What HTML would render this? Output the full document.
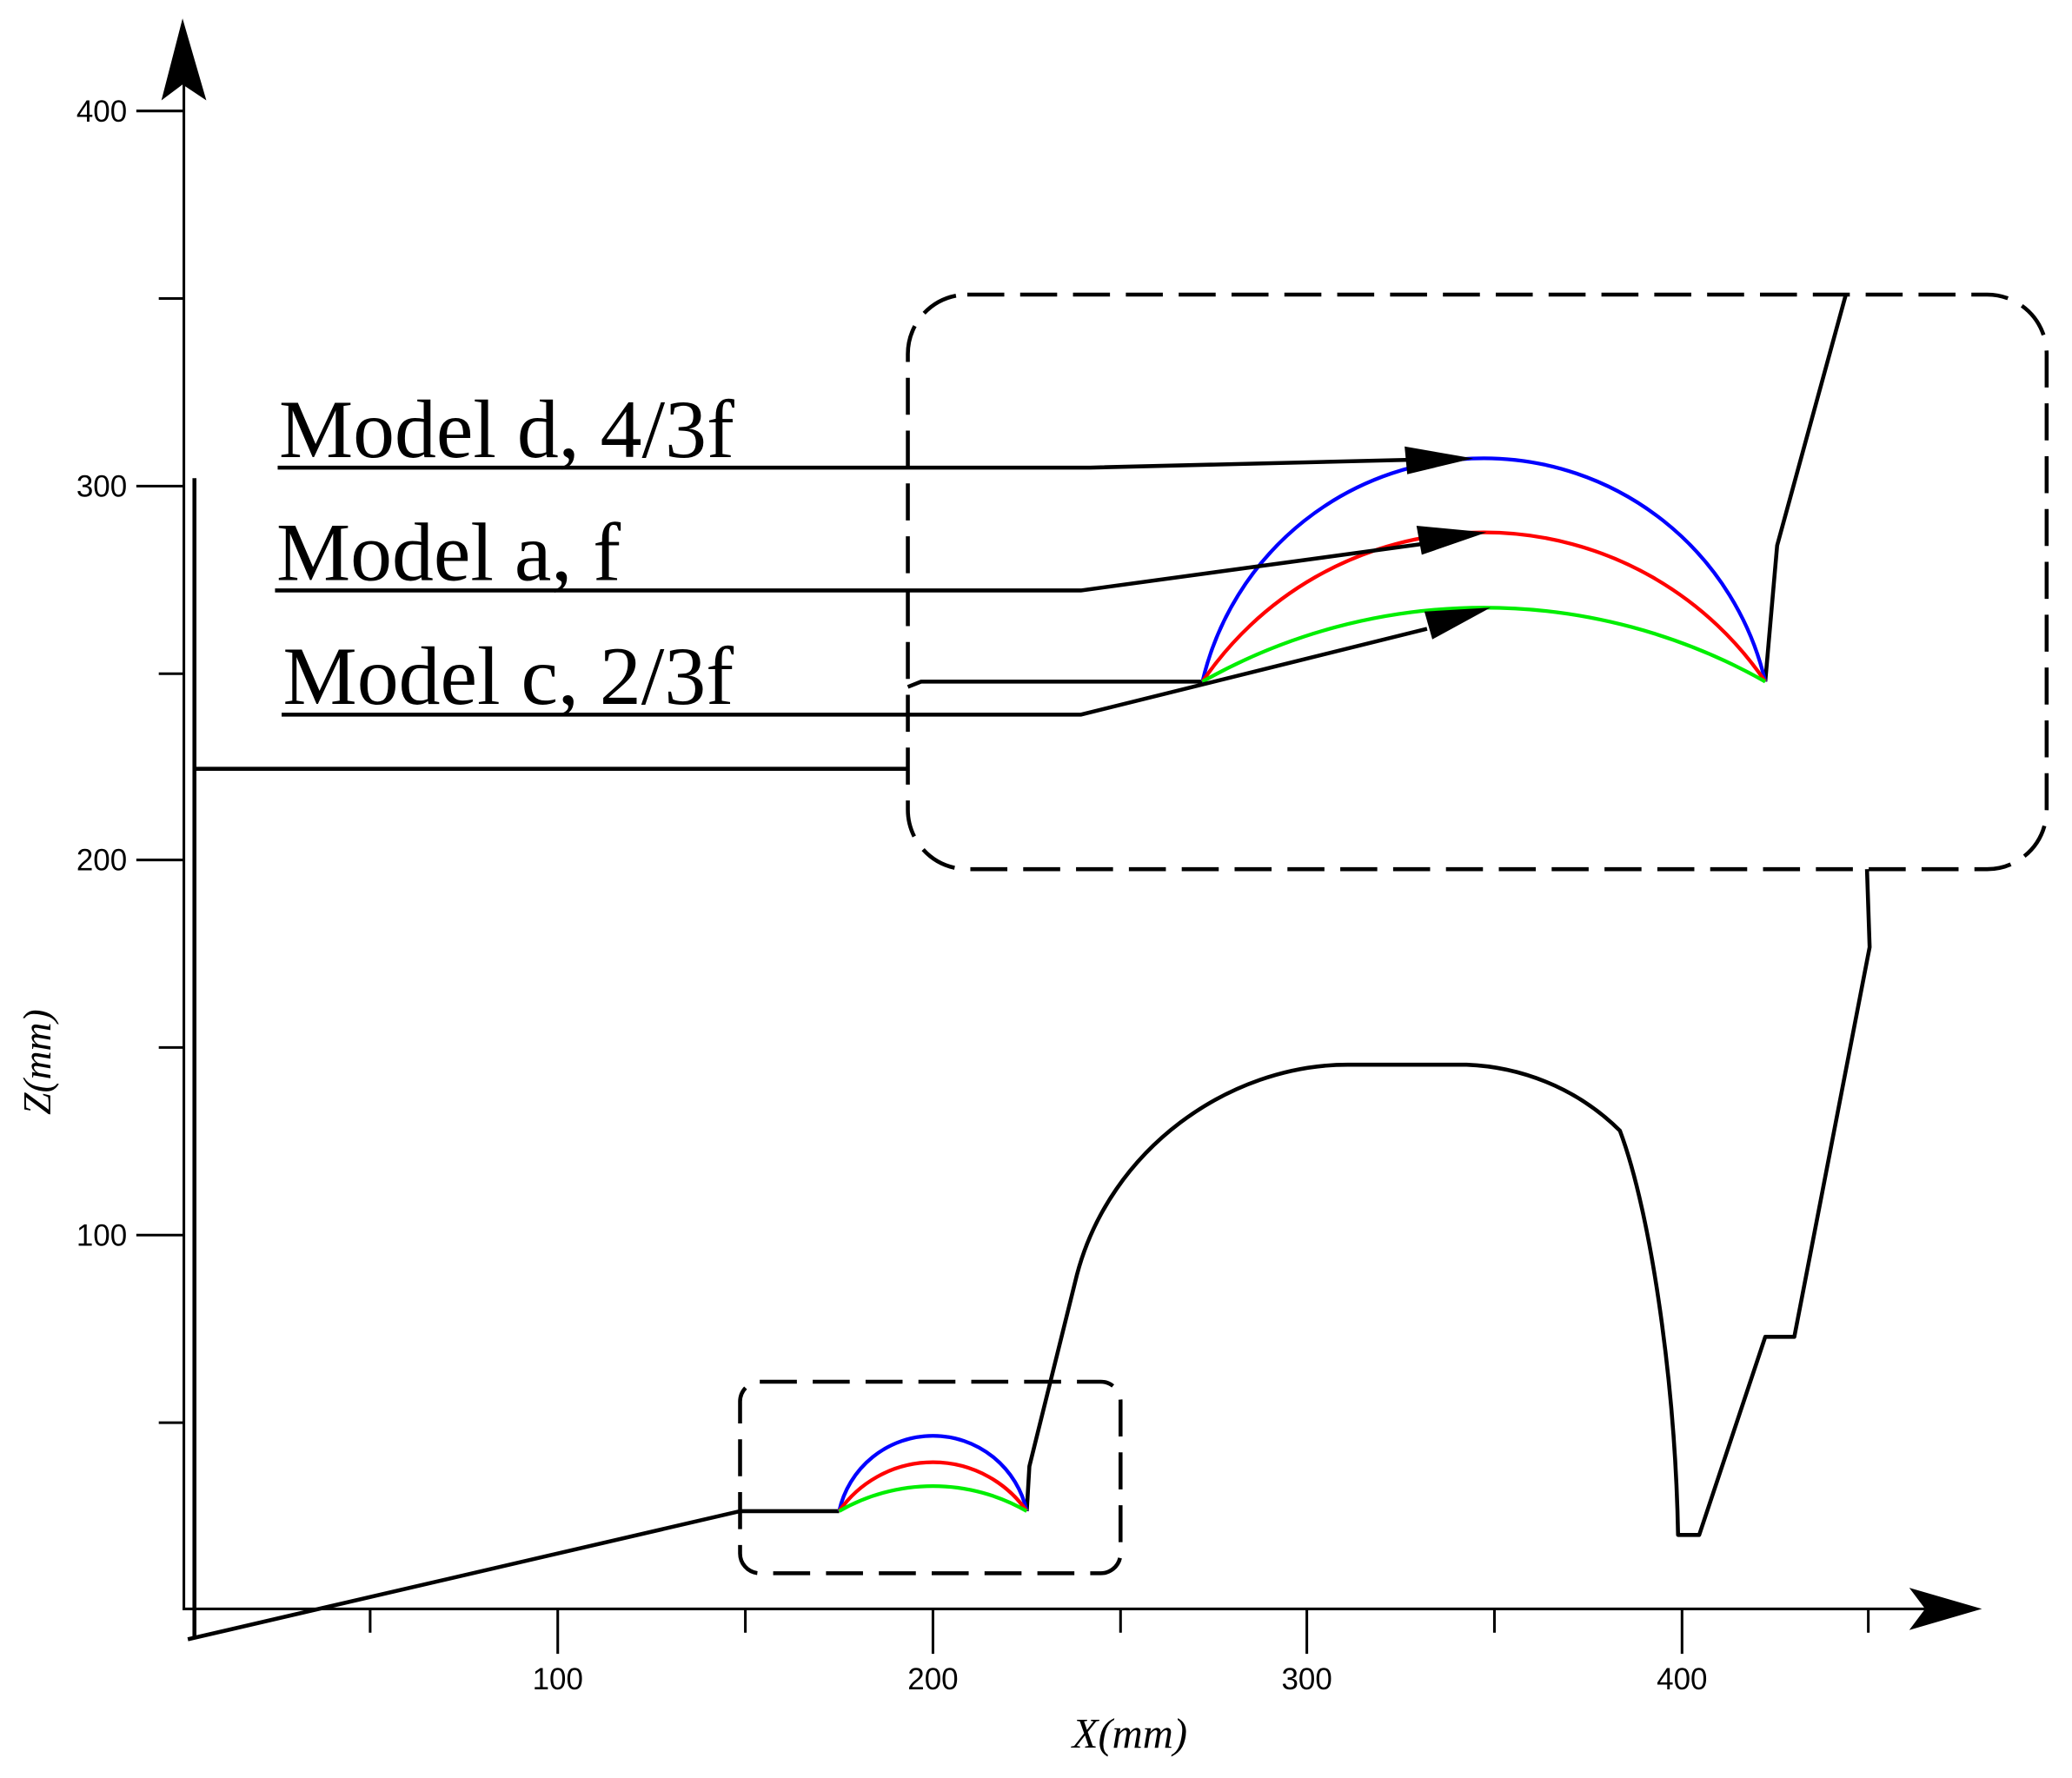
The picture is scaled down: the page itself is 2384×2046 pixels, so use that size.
<!DOCTYPE html>
<html><head><meta charset="utf-8"><style>html,body{margin:0;padding:0;background:#fff}svg{display:block}</style></head>
<body>
<svg width="2384" height="2046" viewBox="0 0 1568 1346" xmlns="http://www.w3.org/2000/svg">
<rect width="1568" height="1346" fill="#fff"/>
<g stroke="#000" stroke-width="2" fill="none">
<line x1="139" y1="60" x2="139" y2="1219"/>
<line x1="138" y1="1218" x2="1460" y2="1218"/>
<line x1="103" y1="84" x2="139" y2="84"/>
<line x1="120" y1="226" x2="139" y2="226"/>
<line x1="103" y1="368" x2="139" y2="368"/>
<line x1="120" y1="510" x2="139" y2="510"/>
<line x1="103" y1="651" x2="139" y2="651"/>
<line x1="120" y1="793" x2="139" y2="793"/>
<line x1="103" y1="935" x2="139" y2="935"/>
<line x1="120" y1="1077" x2="139" y2="1077"/>
<line x1="280" y1="1218" x2="280" y2="1236"/>
<line x1="422" y1="1218" x2="422" y2="1252"/>
<line x1="564" y1="1218" x2="564" y2="1236"/>
<line x1="706" y1="1218" x2="706" y2="1252"/>
<line x1="848" y1="1218" x2="848" y2="1236"/>
<line x1="989" y1="1218" x2="989" y2="1252"/>
<line x1="1131" y1="1218" x2="1131" y2="1236"/>
<line x1="1273" y1="1218" x2="1273" y2="1252"/>
<line x1="1414" y1="1218" x2="1414" y2="1236"/>
</g>
<polygon points="138,14 156,76 138,64 122,76" fill="#000"/>
<polygon points="1500,1218 1445,1202 1457,1218 1445,1234" fill="#000"/>
<g font-family="Liberation Sans, sans-serif" font-size="23" fill="#000" text-anchor="end">
<text x="96" y="92">400</text>
<text x="96" y="376">300</text>
<text x="96" y="659">200</text>
<text x="96" y="943">100</text>
</g>
<g font-family="Liberation Sans, sans-serif" font-size="23" fill="#000" text-anchor="middle">
<text x="422" y="1279">100</text>
<text x="706" y="1279">200</text>
<text x="989" y="1279">300</text>
<text x="1273" y="1279">400</text>
</g>
<text x="855" y="1323" font-family="Liberation Serif, serif" font-style="italic" font-size="32" text-anchor="middle">X(mm)</text>
<text transform="translate(38,804) rotate(-90)" font-family="Liberation Serif, serif" font-style="italic" font-size="30" text-anchor="middle">Z(mm)</text>

<g stroke="#000" stroke-width="3" fill="none" stroke-linejoin="round">
<line x1="147" y1="362" x2="147" y2="1240"/>
<line x1="147" y1="582" x2="687" y2="582"/>
<polyline points="142,1241 560,1144 635,1144"/>
<path d="M777,1144 L779,1110 L815,965 C840,870 930,806 1020,806 L1110,806 C1160,808 1200,830 1226,856 C1250,920 1268,1050 1270,1162 L1286,1162 L1336,1012 L1358,1012 L1415,717 L1413,658"/>
<polyline points="687,520 697,516 910,516"/>
<polyline points="1336,516 1345,413 1397,223"/>
</g>
<g fill="none" stroke-width="2.8">
<path d="M635,1144 A72.7,72.7 0 0 1 777,1144" stroke="#0000ff"/>
<path d="M635,1144 A86.6,86.6 0 0 1 777,1144" stroke="#ff0000"/>
<path d="M635,1144 A142.2,142.2 0 0 1 777,1144" stroke="#00ee00"/>
<path d="M910,516 A218.7,218.7 0 0 1 1336,516" stroke="#0000ff"/>
<path d="M910,516 A257.3,257.3 0 0 1 1336,516" stroke="#ff0000"/>
<path d="M910,516 A433,433 0 0 1 1336,516" stroke="#00ee00"/>
</g>
<g stroke="#000" stroke-width="3" fill="none" stroke-dasharray="28,12">
<rect x="560" y="1046" width="288" height="145" rx="15"/>
<rect x="687" y="223" width="862" height="435" rx="45"/>
</g>
<g font-family="Liberation Serif, serif" font-size="63" fill="#000">
<text x="211" y="346">Model d, 4/3f</text>
<text x="209" y="439">Model a, f</text>
<text x="214" y="533">Model c, 2/3f</text>
</g>
<g stroke="#000" stroke-width="3" fill="none">
<polyline points="210,354 825,354 1070,348"/>
<polyline points="208,447 818,447 1075,412"/>
<polyline points="213,541 818,541 1080,476"/>
</g>
<g fill="#000">
<polygon points="1115,347 1063,338 1065,359"/>
<polygon points="1125,403 1072,398 1076,420"/>
<polygon points="1128,460 1078,463 1084,484"/>
</g>
</svg>
</body></html>
